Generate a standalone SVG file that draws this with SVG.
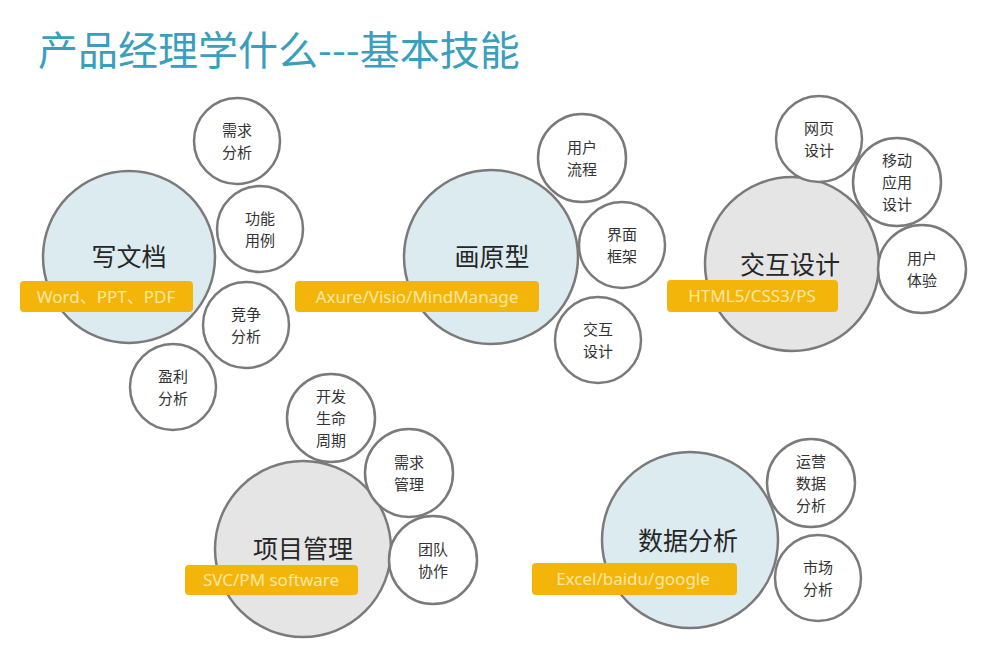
<svg xmlns="http://www.w3.org/2000/svg" width="1000" height="668" viewBox="0 0 1000 668">
<style>
.bg{fill:#ffffff}
.title{font-family:"Noto Sans CJK SC","Noto Sans",sans-serif;font-size:40px;fill:#3a9fbd}
.big{stroke:#7a7a7a;stroke-width:2.5}
.blue{fill:#dcebf0}
.grey{fill:#e5e5e6}
.small{fill:#ffffff;stroke:#7a7a7a;stroke-width:2.5}
.bar{fill:#f4b50a}
.bt{font-family:"Noto Sans CJK SC","Noto Sans",sans-serif;font-size:25px;fill:#262626;text-anchor:middle}
.st{font-family:"Noto Sans CJK SC","Noto Sans",sans-serif;font-size:15px;fill:#333333;text-anchor:middle}
.yt{font-family:"Noto Sans","Noto Sans CJK SC",sans-serif;font-size:17px;fill:#fde7a6;text-anchor:middle}
</style>
<rect class="bg" x="0" y="0" width="1000" height="668"/>
<text class="title" x="38" y="65">产品经理学什么---基本技能</text>

<g id="node-xiewendang">
<circle class="big blue" cx="129" cy="257" r="86"/>
<text class="bt" x="129" y="266">写文档</text>
<rect class="bar" x="20" y="281" width="173" height="31" rx="4"/>
<text class="yt" x="106" y="303">Word、PPT、PDF</text>
</g>
<g id="node-xuqiufenxi">
<circle class="small" cx="237" cy="141" r="43"/>
<text class="st" x="237" y="135.5">需求</text><text class="st" x="237" y="157.5">分析</text>
</g>
<g id="node-gongnengyongli">
<circle class="small" cx="260" cy="229" r="43"/>
<text class="st" x="260" y="223.5">功能</text><text class="st" x="260" y="245.5">用例</text>
</g>
<g id="node-jingzhengfenxi">
<circle class="small" cx="246" cy="325" r="43"/>
<text class="st" x="246" y="319.5">竞争</text><text class="st" x="246" y="341.5">分析</text>
</g>
<g id="node-yinglifenxi">
<circle class="small" cx="173" cy="387" r="43"/>
<text class="st" x="173" y="381.5">盈利</text><text class="st" x="173" y="403.5">分析</text>
</g>

<g id="node-huayuanxing">
<circle class="big blue" cx="491" cy="257" r="87"/>
<text class="bt" x="492" y="266">画原型</text>
<rect class="bar" x="295" y="281" width="244" height="31" rx="4"/>
<text class="yt" x="417" y="303">Axure/Visio/MindManage</text>
</g>
<g id="node-yonghuliucheng">
<circle class="small" cx="582" cy="158" r="44"/>
<text class="st" x="582" y="152.5">用户</text><text class="st" x="582" y="174.5">流程</text>
</g>
<g id="node-jiemiankuangjia">
<circle class="small" cx="622" cy="245" r="43"/>
<text class="st" x="622" y="239.5">界面</text><text class="st" x="622" y="261.5">框架</text>
</g>
<g id="node-jiaohusheji-small">
<circle class="small" cx="598" cy="340" r="43"/>
<text class="st" x="598" y="334.5">交互</text><text class="st" x="598" y="356.5">设计</text>
</g>

<g id="node-jiaohusheji">
<circle class="big grey" cx="792" cy="264" r="87"/>
<text class="bt" x="790" y="274">交互设计</text>
<rect class="bar" x="667" y="280" width="171" height="32" rx="4"/>
<text class="yt" x="752" y="302">HTML5/CSS3/PS</text>
</g>
<g id="node-wangyesheji">
<circle class="small" cx="819" cy="139" r="43"/>
<text class="st" x="819" y="133.5">网页</text><text class="st" x="819" y="155.5">设计</text>
</g>
<g id="node-yidongyingyong">
<circle class="small" cx="897" cy="182" r="44"/>
<text class="st" x="897" y="165.5">移动</text><text class="st" x="897" y="187.5">应用</text><text class="st" x="897" y="209.5">设计</text>
</g>
<g id="node-yonghutiyan">
<circle class="small" cx="922" cy="269" r="44"/>
<text class="st" x="922" y="263.5">用户</text><text class="st" x="922" y="285.5">体验</text>
</g>

<g id="node-xiangmuguanli">
<circle class="big grey" cx="303" cy="549" r="88"/>
<text class="bt" x="303" y="558">项目管理</text>
<rect class="bar" x="185" y="565" width="173" height="30" rx="4"/>
<text class="yt" x="271" y="586">SVC/PM software</text>
</g>
<g id="node-kaifashengming">
<circle class="small" cx="331" cy="418" r="44"/>
<text class="st" x="331" y="401.5">开发</text><text class="st" x="331" y="423.5">生命</text><text class="st" x="331" y="445.5">周期</text>
</g>
<g id="node-xuqiuguanli">
<circle class="small" cx="409" cy="473" r="44"/>
<text class="st" x="409" y="467.5">需求</text><text class="st" x="409" y="489.5">管理</text>
</g>
<g id="node-tuanduixiezuo">
<circle class="small" cx="433" cy="560" r="44"/>
<text class="st" x="433" y="554.5">团队</text><text class="st" x="433" y="576.5">协作</text>
</g>

<g id="node-shujufenxi">
<circle class="big blue" cx="690" cy="540" r="88"/>
<text class="bt" x="688" y="550">数据分析</text>
<rect class="bar" x="532" y="563" width="205" height="32" rx="4"/>
<text class="yt" x="633" y="585">Excel/baidu/google</text>
</g>
<g id="node-yunyingshuju">
<circle class="small" cx="811" cy="483" r="44"/>
<text class="st" x="811" y="466.5">运营</text><text class="st" x="811" y="488.5">数据</text><text class="st" x="811" y="510.5">分析</text>
</g>
<g id="node-shichangfenxi">
<circle class="small" cx="818" cy="578" r="43"/>
<text class="st" x="818" y="572.5">市场</text><text class="st" x="818" y="594.5">分析</text>
</g>
</svg>
